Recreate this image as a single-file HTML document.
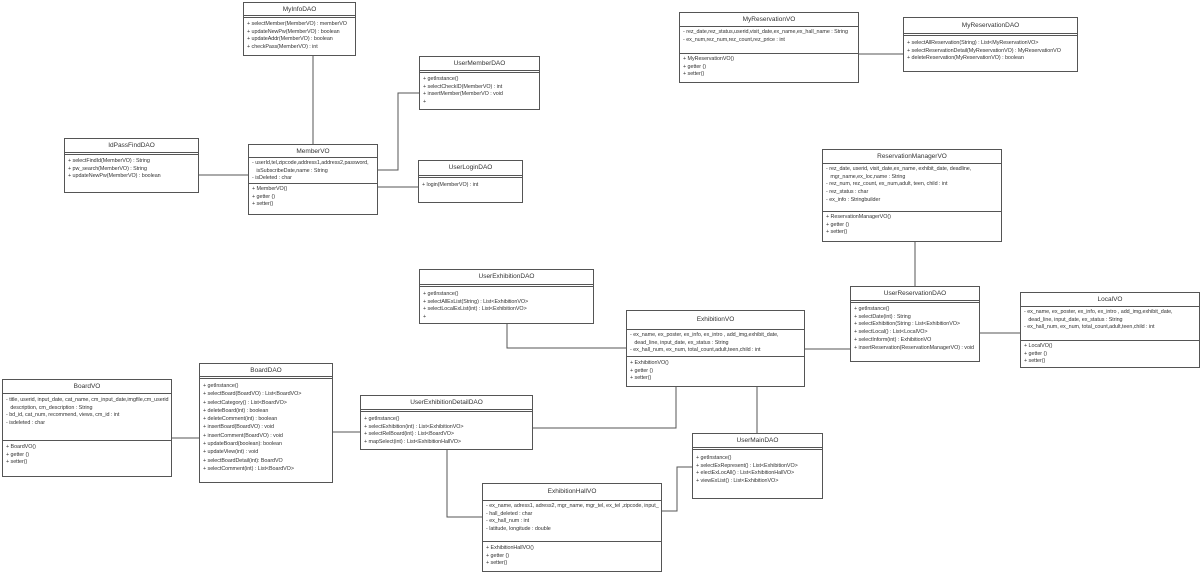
<!DOCTYPE html>
<html><head><meta charset="utf-8"><style>
body{margin:0;width:1201px;height:573px;background:#fff;position:relative;overflow:hidden;font-family:"Liberation Sans",sans-serif;color:#333}
.b{position:absolute;box-sizing:border-box;border:1px solid #555;background:#fff}
.t{position:absolute;left:0;right:0;top:0;text-align:center;font-size:6.5px}
.s{position:absolute;left:0;right:0;border-top:1px solid #555}
.x{position:absolute;left:3px;font-size:5.4px;letter-spacing:-0.05px;line-height:7.7px;white-space:nowrap}
svg{position:absolute;left:0;top:0}
</style></head><body>
<svg width="1201" height="573"><g fill="none" stroke="#555" stroke-width="1">
<path d="M313 56V144"/>
<path d="M378 170H398V93H419"/>
<path d="M199 175H248"/>
<path d="M378 187H418"/>
<path d="M859 54H903"/>
<path d="M915 242V286"/>
<path d="M507 324V348H626"/>
<path d="M805 349H850"/>
<path d="M980 333H1020"/>
<path d="M172 438H199"/>
<path d="M333 432H360"/>
<path d="M533 428H676V387"/>
<path d="M757 387V433"/>
<path d="M447 450V517H482"/>
<path d="M662 511H677V467H692"/>
</g></svg>

<div class="b" style="left:243px;top:2px;width:113px;height:54px"><div class="t" style="height:13px;line-height:13px">MyInfoDAO</div><div class="s" style="top:12px"></div><div class="s" style="top:14px"></div><div class="x" style="top:18px">+ selectMember(MemberVO) : memberVO<br>+ updateNewPw(MemberVO) : boolean<br>+ updateAddr(MemberVO) : boolean<br>+ checkPass(MemberVO) : int</div></div>

<div class="b" style="left:419px;top:56px;width:121px;height:54px"><div class="t" style="height:14px;line-height:14px">UserMemberDAO</div><div class="s" style="top:13px"></div><div class="s" style="top:15px"></div><div class="x" style="top:19px">+ getInstance()<br>+ selectCheckID(MemberVO) : int<br>+ insertMember(MemberVO : void<br>+</div></div>

<div class="b" style="left:64px;top:138px;width:135px;height:55px"><div class="t" style="height:14px;line-height:14px">IdPassFindDAO</div><div class="s" style="top:13px"></div><div class="s" style="top:15px"></div><div class="x" style="top:19px">+ selectFindId(MemberVO) : String<br>+ pw_search(MemberVO) : String<br>+ updateNewPw(MemberVO) : boolean</div></div>

<div class="b" style="left:248px;top:144px;width:130px;height:71px"><div class="t" style="height:13px;line-height:13px">MemberVO</div><div class="s" style="top:12px"></div><div class="x" style="top:15px">- userId,tel,zipcode,address1,address2,password,<br>&nbsp;&nbsp;&nbsp;isSubscribeDate,name : String<br>- isDeleted : char</div><div class="s" style="top:38px"></div><div class="x" style="top:41px">+ MemberVO()<br>+ getter ()<br>+ setter()</div></div>

<div class="b" style="left:418px;top:160px;width:105px;height:43px"><div class="t" style="height:14px;line-height:14px">UserLoginDAO</div><div class="s" style="top:14px"></div><div class="s" style="top:16px"></div><div class="x" style="top:21px">+ login(MemberVO) : int</div></div>

<div class="b" style="left:679px;top:12px;width:180px;height:71px"><div class="t" style="height:14px;line-height:14px">MyReservationVO</div><div class="s" style="top:13px"></div><div class="x" style="top:16px">- rez_date,rez_status,userid,visit_date,ex_name,ex_hall_name : String<br>- ex_num,rez_num,rez_count,rez_price : int</div><div class="s" style="top:40px"></div><div class="x" style="top:43px">+ MyReservationVO()<br>+ getter ()<br>+ setter()</div></div>

<div class="b" style="left:903px;top:17px;width:175px;height:55px"><div class="t" style="height:15px;line-height:15px">MyReservationDAO</div><div class="s" style="top:15px"></div><div class="s" style="top:17px"></div><div class="x" style="top:22px">+ selectAllReservation(String) : List&lt;MyReservationVO&gt;<br>+ selectReservationDetail(MyReservationVO) : MyReservationVO<br>+ deleteReservation(MyReservationVO) : boolean</div></div>

<div class="b" style="left:822px;top:149px;width:180px;height:93px"><div class="t" style="height:14px;line-height:14px">ReservationManagerVO</div><div class="s" style="top:13px"></div><div class="x" style="top:16px">- rez_date, userid, visit_date,ex_name, exhibit_date, deadline,<br>&nbsp;&nbsp;&nbsp;mgr_name,ex_loc,name : String<br>- rez_num, rez_count, ex_num,adult, teen, child : int<br>- rez_status : char<br>- ex_info : Stringbuilder</div><div class="s" style="top:61px"></div><div class="x" style="top:64px">+ ReservationManagerVO()<br>+ getter ()<br>+ setter()</div></div>

<div class="b" style="left:419px;top:269px;width:175px;height:55px"><div class="t" style="height:14px;line-height:14px">UserExhibitionDAO</div><div class="s" style="top:14px"></div><div class="s" style="top:16px"></div><div class="x" style="top:21px">+ getInstance()<br>+ selectAllExList(String) : List&lt;ExhibitionVO&gt;<br>+ selectLocalExList(int) : List&lt;ExhibitionVO&gt;<br>+</div></div>

<div class="b" style="left:626px;top:310px;width:179px;height:77px"><div class="t" style="height:18px;line-height:18px">ExhibitionVO</div><div class="s" style="top:18px"></div><div class="x" style="top:21px">- ex_name, ex_poster, ex_info, ex_intro , add_img,exhibit_date,<br>&nbsp;&nbsp;&nbsp;dead_line, input_date, ex_status : String<br>- ex_hall_num, ex_num, total_count,adult,teen,child : int</div><div class="s" style="top:45px"></div><div class="x" style="top:49px">+ ExhibitionVO()<br>+ getter ()<br>+ setter()</div></div>

<div class="b" style="left:850px;top:286px;width:130px;height:76px"><div class="t" style="height:14px;line-height:14px">UserReservationDAO</div><div class="s" style="top:13px"></div><div class="s" style="top:15px"></div><div class="x" style="top:19px">+ getInstance()<br>+ selectDate(int) : String<br>+ selectExhibition(String : List&lt;ExhibitionVO&gt;<br>+ selectLocal() : List&lt;LocalVO&gt;<br>+ selectInform(int) : ExhibitionVO<br>+ insertReservation(ReservationManagerVO) : void</div></div>

<div class="b" style="left:1020px;top:292px;width:180px;height:76px"><div class="t" style="height:13px;line-height:13px">LocalVO</div><div class="s" style="top:13px"></div><div class="x" style="top:16px">- ex_name, ex_poster, ex_info, ex_intro , add_img,exhibit_date,<br>&nbsp;&nbsp;&nbsp;dead_line, input_date, ex_status : String<br>- ex_hall_num, ex_num, total_count,adult,teen,child : int</div><div class="s" style="top:47px"></div><div class="x" style="top:50px">+ LocalVO()<br>+ getter ()<br>+ setter()</div></div>

<div class="b" style="left:2px;top:379px;width:170px;height:98px"><div class="t" style="height:14px;line-height:14px">BoardVO</div><div class="s" style="top:13px"></div><div class="x" style="top:17px">- title, userid, input_date, cat_name, cm_input_date,imgfile,cm_userid<br>&nbsp;&nbsp;&nbsp;description, cm_description : String<br>- bd_id, cat_num, recommend, views, cm_id : int<br>- isdeleted : char</div><div class="s" style="top:60px"></div><div class="x" style="top:64px">+ BoardVO()<br>+ getter ()<br>+ setter()</div></div>

<div class="b" style="left:199px;top:363px;width:134px;height:120px"><div class="t" style="height:13px;line-height:13px">BoardDAO</div><div class="s" style="top:12px"></div><div class="s" style="top:14px"></div><div class="x" style="top:18px;line-height:8.3px">+ getInstance()<br>+ selectBoard(BoardVO) : List&lt;BoardVO&gt;<br>+ selectCategory() : List&lt;BoardVO&gt;<br>+ deleteBoard(int) : boolean<br>+ deleteComment(int) : boolean<br>+ insertBoard(BoardVO) : void<br>+ insertComment(BoardVO) : void<br>+ updateBoard(boolean): boolean<br>+ updateView(int) : void<br>+ selectBoardDetail(int): BoardVO<br>+ selectComment(int) : List&lt;BoardVO&gt;</div></div>

<div class="b" style="left:360px;top:395px;width:173px;height:55px"><div class="t" style="height:14px;line-height:14px">UserExhibitionDetailDAO</div><div class="s" style="top:13px"></div><div class="s" style="top:15px"></div><div class="x" style="top:20px">+ getInstance()<br>+ selectExhibition(int) : List&lt;ExhibitionVO&gt;<br>+ selectRelBoard(int) : List&lt;BoardVO&gt;<br>+ mapSelect(int) : List&lt;ExhibitionHallVO&gt;</div></div>

<div class="b" style="left:482px;top:483px;width:180px;height:89px"><div class="t" style="height:16px;line-height:16px">ExhibitionHallVO</div><div class="s" style="top:16px"></div><div class="x" style="top:19px">- ex_name, adress1, adress2, mgr_name, mgr_tel, ex_tel ,zipcode, input_<br>- hall_deleted : char<br>- ex_hall_num : int<br>- latitude, longitude : double</div><div class="s" style="top:57px"></div><div class="x" style="top:61px">+ ExhibitionHallVO()<br>+ getter ()<br>+ setter()</div></div>

<div class="b" style="left:692px;top:433px;width:131px;height:66px"><div class="t" style="height:13px;line-height:13px">UserMainDAO</div><div class="s" style="top:13px"></div><div class="s" style="top:15px"></div><div class="x" style="top:21px">+ getInstance()<br>+ selectExRepresent() : List&lt;ExhibitionVO&gt;<br>+ electExLocAll() : List&lt;ExhibitionHallVO&gt;<br>+ viewExList() : List&lt;ExhibitionVO&gt;</div></div>

</body></html>
